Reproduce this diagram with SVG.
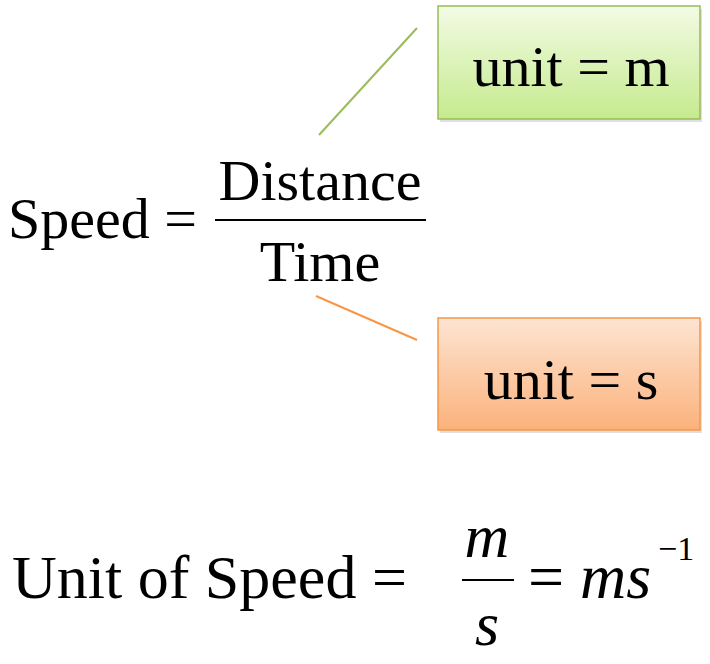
<svg xmlns="http://www.w3.org/2000/svg" width="710" height="664" viewBox="0 0 710 664">
<defs>
<linearGradient id="gg" x1="0" y1="0" x2="0" y2="1"><stop offset="0" stop-color="#f2fbe4"/><stop offset="1" stop-color="#c6ea8e"/></linearGradient>
<linearGradient id="og" x1="0" y1="0" x2="0" y2="1"><stop offset="0" stop-color="#fde4d2"/><stop offset="1" stop-color="#fbb27c"/></linearGradient>
</defs>
<style>
text{font-family:"Liberation Serif",serif;fill:#000}
.b{font-size:58px;text-anchor:middle}
.m{font-size:58px}
.i{font-style:italic}
</style>
<g id="connectors">
<line x1="417" y1="28" x2="319" y2="135" stroke="#9bbb59" stroke-width="2"/>
<line x1="316" y1="296" x2="417" y2="340" stroke="#f79646" stroke-width="2"/>
</g>
<g id="unit-m">
<rect x="440" y="9" width="262" height="113" fill="#000" opacity="0.12"/>
<rect x="438" y="6" width="262" height="113" fill="url(#gg)" stroke="#9bbb59" stroke-width="1.5"/>
<text class="b" x="571" y="86">unit = m</text>
</g>
<g id="unit-s">
<rect x="440" y="321" width="262" height="112" fill="#000" opacity="0.12"/>
<rect x="438" y="318" width="262" height="112" fill="url(#og)" stroke="#f79646" stroke-width="1.5"/>
<text class="b" x="571" y="399">unit = s</text>
</g>
<g id="speed-formula">
<text class="m" x="8" y="238">Speed =</text>
<text class="b" x="320" y="200">Distance</text>
<line x1="215" y1="220" x2="426" y2="220" stroke="#000" stroke-width="2"/>
<text class="b" x="320" y="281">Time</text>
</g>
<g id="unit-formula">
<text x="12" y="598" style="font-size:62px">Unit of Speed =</text>
<text class="b i" x="487" y="557" style="font-size:62px">m</text>
<line x1="462" y1="580" x2="514" y2="580" stroke="#000" stroke-width="2"/>
<text class="b i" x="487" y="645" style="font-size:62px">s</text>
<text x="528" y="598" style="font-size:64px">= <tspan font-style="italic">ms</tspan></text>
<text x="658" y="560" style="font-size:34px">−1</text>
</g>
</svg>
